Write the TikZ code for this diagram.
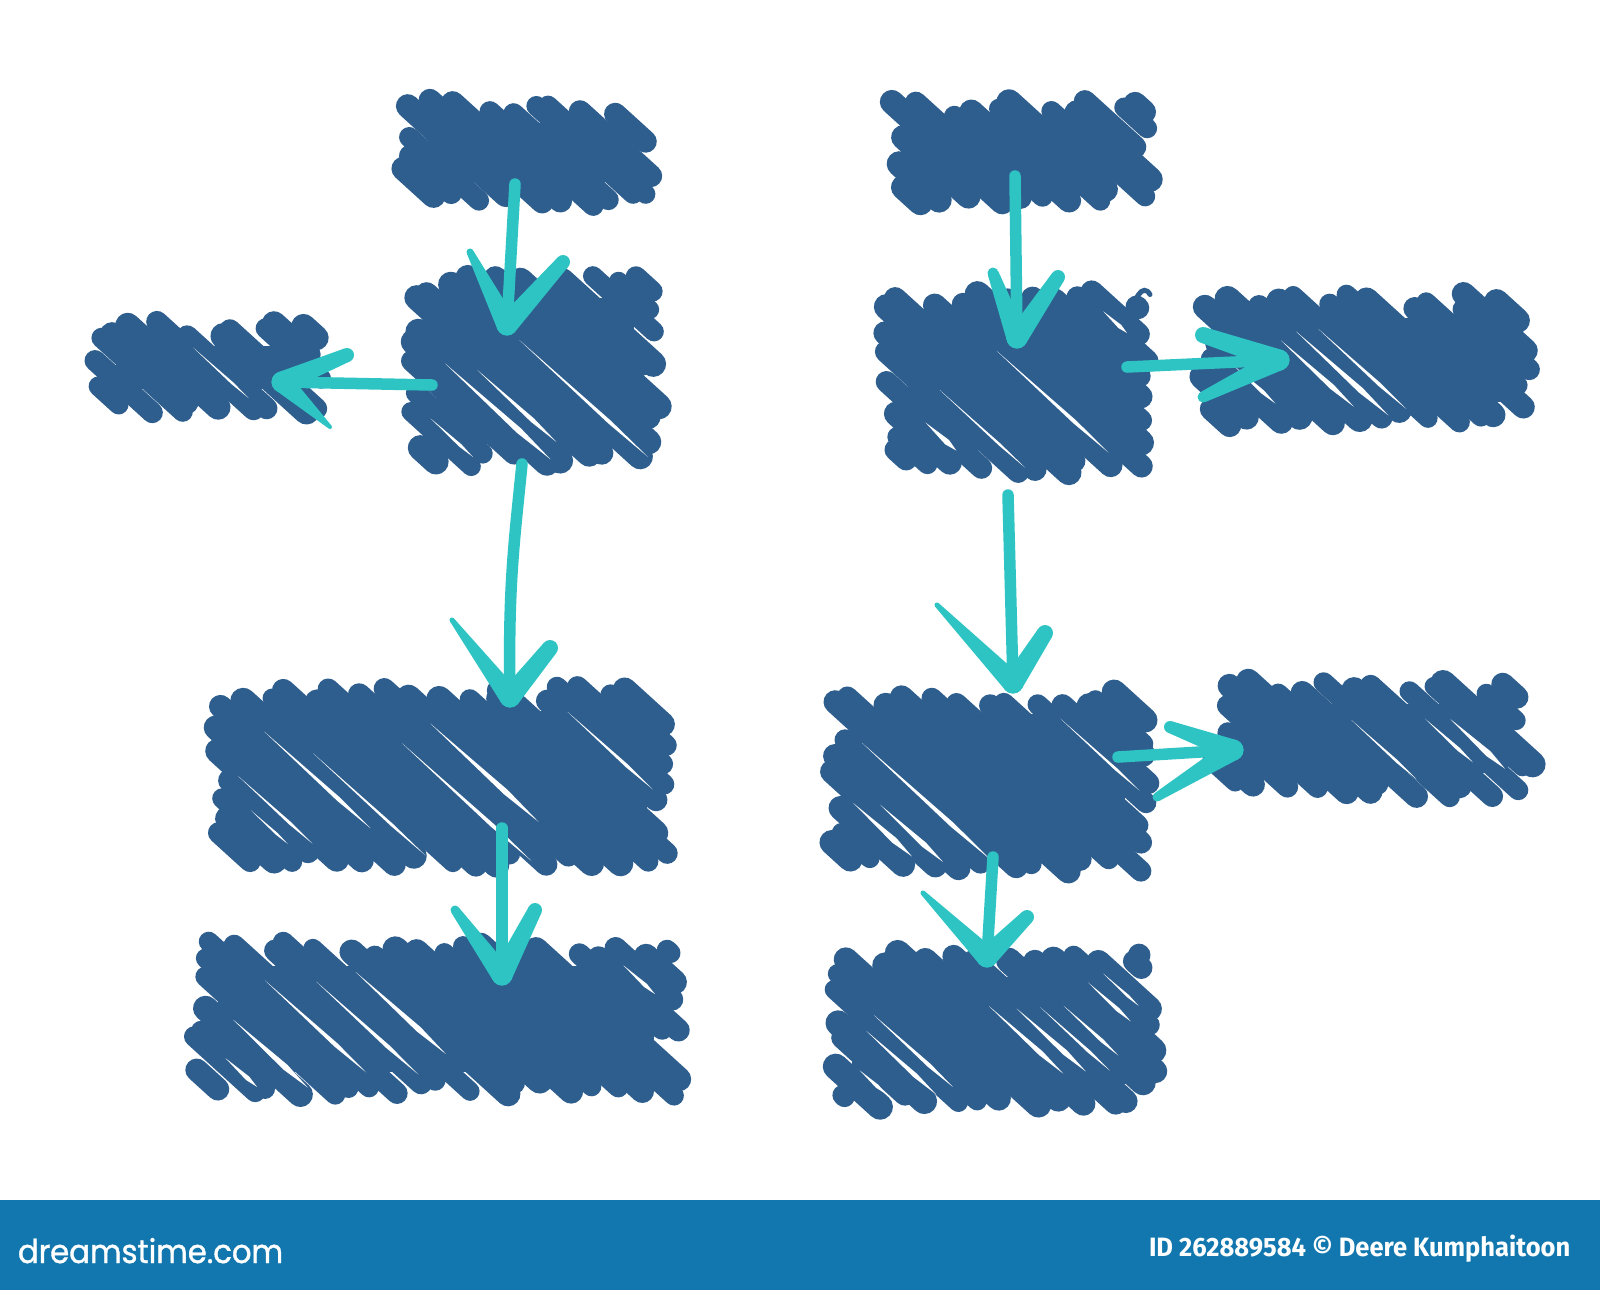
\documentclass[tikz,border=0pt]{standalone}
\usepackage{fontspec}
\usepackage{graphicx}
\usetikzlibrary{calc}
\newfontfamily\logofont{Poppins}[FakeBold=1.2]
\newfontfamily\idfont{Fira Sans}
\definecolor{boxblue}{HTML}{2E5E8E}
\definecolor{arrowc}{HTML}{2EC4C4}
\definecolor{bannerc}{HTML}{1177AE}
\def\sbk{1.1}
\def\sbs{25}
\def\sbnrm{1.4866}
\tikzset{
 boxnode/.style={inner sep=0pt, outer sep=0pt},
 scrib/.style={draw=boxblue, line cap=round},
 shaft/.style={draw=arrowc, line width=0.115cm, line cap=round},
}
\newcommand{\scribblebox}[6]{%
 \pgfmathsetmacro\sbcx{(#2+#4)/2}%
 \pgfmathsetmacro\sbcy{(#3+#5)/2}%
 \pgfmathsetmacro\sbw{(#4-#2)*0.01}%
 \pgfmathsetmacro\sbh{(#5-#3)*0.01}%
 \node[boxnode, minimum width=\sbw cm, minimum height=\sbh cm] (#1) at (\sbcx,\sbcy) {};%
 \pgfmathsetseed{#6}%
 \pgfmathsetmacro\sbax{#2+15}%
 \pgfmathsetmacro\sbay{#3+15}%
 \pgfmathsetmacro\sbbx{#4-15}%
 \pgfmathsetmacro\sbby{#5-15}%
 \fill[boxblue] (#2+28,#3+28) rectangle (#4-28,#5-28);%
 \pgfmathsetmacro\sbcmin{\sbax-\sbk*\sbby}%
 \pgfmathsetmacro\sbcmax{\sbbx-\sbk*\sbay}%
 \pgfmathtruncatemacro\sbn{(\sbcmax-\sbcmin)/\sbs}%
 \foreach \i in {0,...,\sbn}{%
   \pgfmathsetmacro\sbc{\sbcmin+(\i+0.5+0.3*rand)*\sbs}%
   \pgfmathsetmacro\sbya{max(\sbay,(\sbax-\sbc)/\sbk)}%
   \pgfmathsetmacro\sbyb{min(\sbby,(\sbbx-\sbc)/\sbk)}%
   \pgfmathsetmacro\sbyA{\sbya-(rnd*24-7)/\sbnrm}%
   \pgfmathsetmacro\sbyB{\sbyb+(rnd*24-7)/\sbnrm}%
   \pgfmathsetmacro\sblw{0.19+0.07*rnd}%
   \ifdim\sbyB pt>\sbyA pt
     \draw[scrib, line width=\sblw cm] ({\sbc+\sbk*\sbyA},\sbyA) -- ({\sbc+\sbk*\sbyB},\sbyB);%
   \fi
 }%
 \foreach \i in {1,...,\sbn}{%
   \pgfmathsetmacro\sbc{\sbcmin+\i*\sbs}%
   \pgfmathsetmacro\sbya{max(\sbay,(\sbax-\sbc)/\sbk)}%
   \pgfmathsetmacro\sbyb{min(\sbby,(\sbbx-\sbc)/\sbk)}%
   \pgfmathtruncatemacro\sbok{and(rnd<0.22,(\sbyb-\sbya)*\sbnrm>55)}%
   \ifnum\sbok=1
     \pgfmathsetmacro\sbfa{0.12+0.3*rnd}%
     \pgfmathsetmacro\sbfb{0.75+0.3*rnd}%
     \pgfmathsetmacro\sbyP{\sbya+\sbfa*(\sbyb-\sbya)}%
     \pgfmathsetmacro\sbyQ{\sbya+\sbfb*(\sbyb-\sbya)}%
     \pgfmathsetmacro\sbyM{\sbyP+0.7*(\sbyQ-\sbyP)}%
     \pgfmathsetmacro\sbgw{1.2+2*rnd}%
     \fill[white] ({\sbc+\sbk*\sbyP},\sbyP) -- ({\sbc+\sbk*\sbyM+\sbgw/\sbnrm},{\sbyM-\sbk*\sbgw/\sbnrm}) -- ({\sbc+\sbk*\sbyQ},\sbyQ) -- ({\sbc+\sbk*\sbyM-\sbgw/\sbnrm},{\sbyM+\sbk*\sbgw/\sbnrm}) -- cycle;%
   \fi
 }%
}
% one tapered arm: #1 far end, #2 tip, #3 half width at far end (cm)
\newcommand{\armto}[3]{%
 \fill[arrowc] ($(#1)!#3cm!90:(#2)$) -- ($(#2)!0.105cm!-90:(#1)$) -- ($(#2)!0.105cm!90:(#1)$) -- ($(#1)!#3cm!-90:(#2)$) -- cycle;%
 \fill[arrowc] (#2) circle (0.105cm);%
 \fill[arrowc] (#1) circle (#3cm);%
}
% arrow head at tip #1 with arms at offsets (#2,#3) and (#4,#5), far-end half widths #6 #7
\newcommand{\arms}[7]{%
 \coordinate (#1-a) at ($(#1)+(#2,#3)$);%
 \coordinate (#1-b) at ($(#1)+(#4,#5)$);%
 \armto{#1-a}{#1}{#6}%
 \armto{#1-b}{#1}{#7}%
}
\begin{document}
\begin{tikzpicture}[x=0.01cm, y=-0.01cm]
\useasboundingbox (0,0) rectangle (1600,1290);
\fill[white] (0,0) rectangle (1600,1290);

% left column boxes
\scribblebox{L1}{400}{95}{660}{210}{11}
\scribblebox{L2}{408}{270}{662}{472}{12}
\scribblebox{L3}{88}{318}{326}{417}{13}
\scribblebox{L4}{210}{683}{675}{870}{14}
\scribblebox{L5}{190}{938}{682}{1100}{15}
% right column boxes
\scribblebox{R1}{886}{97}{1155}{209}{21}
\scribblebox{R2}{880}{287}{1150}{478}{22}
\scribblebox{R3}{1198}{290}{1534}{430}{23}
\scribblebox{R4}{827}{686}{1153}{876}{24}
\scribblebox{R5}{1209}{676}{1536}{801}{25}
\scribblebox{R6}{824}{949}{1158}{1112}{26}
% small curl on the top right of R2
\draw[boxblue, line width=0.05cm, line cap=round] ($(R2)+(115,-60)$) .. controls ($(R2)+(118,-85)$) and ($(R2)+(128,-100)$) .. ($(R2)+(135,-88)$);

% arrows, left column
\coordinate (aS) at ($(L1)+(-15,31.5)$);
\coordinate (aT) at ($(L2)+(-28,-46)$);
\draw[shaft] (aS) -- (aT);
\arms{aT}{-37}{-73}{56}{-63}{0.035}{0.07}

\coordinate (bS) at ($(L2)+(-103,14)$);
\coordinate (bT) at ($(L3)+(75,14.5)$);
\draw[shaft] (bS) -- (bT);
\arms{bT}{65}{-27}{48}{45}{0.07}{0.02}

\coordinate (cS) at ($(L2)+(-13,93)$);
\coordinate (cT) at ($(L4)+(67.5,-79.5)$);
\draw[shaft] (cS) .. controls ($(cS)+(-8,80)$) and ($(cT)+(-2,-110)$) .. (cT);
\arms{cT}{-58}{-77}{40}{-49}{0.025}{0.08}

\coordinate (dS) at ($(L4)+(59.5,51.5)$);
\coordinate (dT) at ($(L5)+(66,-44)$);
\draw[shaft] (dS) -- (dT);
\arms{dT}{-47}{-65}{33}{-65}{0.045}{0.07}

% arrows, right column
\coordinate (eS) at ($(R1)+(-5.5,23)$);
\coordinate (eT) at ($(R2)+(2,-44.5)$);
\draw[shaft] (eS) -- (eT);
\arms{eT}{-24}{-65}{41}{-61}{0.055}{0.07}

\coordinate (fS) at ($(R2)+(112,-15.5)$);
\coordinate (fT) at ($(R3)+(-87,0)$);
\draw[shaft] (fS) -- (fT);
\arms{fT}{-76}{-25}{-76}{37}{0.08}{0.055}

\coordinate (gS) at ($(R2)+(-7,112.5)$);
\coordinate (gT) at ($(R4)+(23,-98)$);
\draw[shaft] (gS) -- (gT);
\arms{gT}{-76}{-78}{32}{-50}{0.025}{0.08}

\coordinate (hS) at ($(R4)+(128,-24)$);
\coordinate (hT) at ($(R5)+(-139.5,11.5)$);
\draw[shaft] (hS) -- (hT);
\arms{hT}{-63}{-23}{-76}{47}{0.06}{0.045}

\coordinate (iS) at ($(R4)+(3,76)$);
\coordinate (iT) at ($(R6)+(-4,-73.5)$);
\draw[shaft] (iS) -- (iT);
\arms{iT}{-64}{-64}{40}{-40}{0.025}{0.07}

% banner
\fill[bannerc] (0,1200) rectangle (1600,1290);
\node[boxnode, anchor=base west, text=white] (logo) at (18,1263) {\resizebox{2.65cm}{0.25cm}{\logofont dreamstime.com}};
\node[boxnode, anchor=base west, text=white] (credit) at (1149,1256) {\resizebox{4.21cm}{0.215cm}{\idfont\bfseries ID 262889584 © Deere Kumphaitoon}};
\end{tikzpicture}
\end{document}
